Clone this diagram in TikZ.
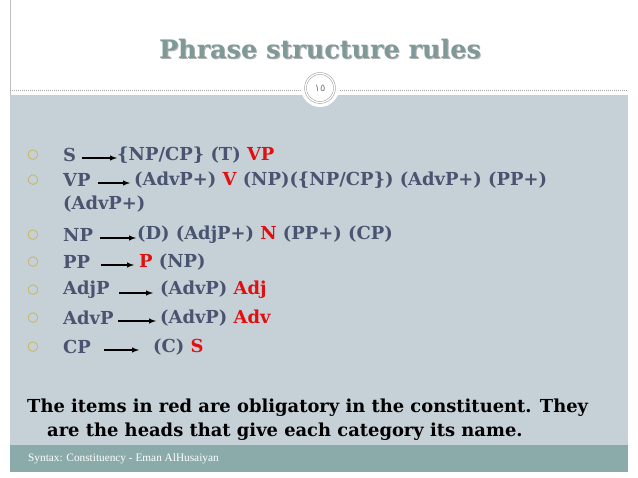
\documentclass[tikz,border=0pt]{standalone}
\usepackage{fontspec}
\setmainfont{DejaVu Serif}
\newfontfamily\arabicfont[Script=Arabic]{DejaVu Sans}
\newfontfamily\footfont{Liberation Serif}
\begin{document}
\begin{tikzpicture}[x=1pt,y=-1pt,
  rule/.style={anchor=west,inner sep=0,font=\bfseries\fontsize{17.9}{20}\selectfont,text=txt},
  bul/.style={anchor=center,inner sep=0,font=\fontsize{13}{14}\selectfont,text=bulc},
  arr/.style={-latex,line width=1.4pt}]
\definecolor{band}{HTML}{C6D0D7}
\definecolor{foot}{HTML}{8BABAB}
\definecolor{ttl}{HTML}{7F9999}
\definecolor{txt}{HTML}{4A5470}
\definecolor{bulc}{HTML}{C9B040}
\definecolor{red1}{HTML}{E01010}
\useasboundingbox (0,0) rectangle (638,478);
\fill[white] (0,0) rectangle (638,478);
\draw[gray!50] (10,0) -- (10,472);
\fill[band] (10,95) rectangle (628,445);
\fill[foot] (10,445) rectangle (628,472);
\draw[gray!70,dashed,dash pattern=on 1pt off 1pt] (10,90) -- (628,90);
\node[font=\bfseries\fontsize{25.5}{28}\selectfont,text=gray!60] at (321,50) {Phrase structure rules};
\node (title) [font=\bfseries\fontsize{25.5}{28}\selectfont,text=ttl] at (320,49) {Phrase structure rules};
\fill[white] (320,88) circle (19);
\draw[gray!80] (320,88) circle (15.5);
\draw[gray!80] (320,88) circle (13.5);
\node (num) [font=\arabicfont\fontsize{10}{11}\selectfont,text=gray] at (320,88) {١٥};
\foreach \y/\n in {155/b1,180/b2,235/b3,262/b4,290/b5,318/b6,347/b7}
  \node (\n) [bul] at (33,\y) {○};
\node (s) [rule] at (63,155) {S};
\node (sr) [rule] at (117,155) {\{NP/CP\} (T) \textcolor{red1}{VP}};
\coordinate (s1) at (82,158); \coordinate (s2) at (117,158);
\draw[arr] (s1) -- (s2);
\node (vp) [rule] at (63,180) {VP};
\node (vpr) [rule] at (134,180) {(AdvP+) \textcolor{red1}{V} (NP)(\{NP/CP\}) (AdvP+) (PP+)};
\node (vp2) [rule] at (63,204) {(AdvP+)};
\coordinate (v1) at (98,183); \coordinate (v2) at (130,183);
\draw[arr] (v1) -- (v2);
\node (np) [rule] at (63,235) {NP};
\node (npr) [rule] at (137,235) {(D) (AdjP+) \textcolor{red1}{N} (PP+) (CP)};
\coordinate (n1c) at (100,238); \coordinate (n2c) at (136,238);
\draw[arr] (n1c) -- (n2c);
\node (pp) [rule] at (63,262) {PP};
\node (ppr) [rule] at (139,262) {\textcolor{red1}{P} (NP)};
\coordinate (p1) at (101,265); \coordinate (p2) at (134,265);
\draw[arr] (p1) -- (p2);
\node (adjp) [rule] at (63,290) {AdjP};
\node (adjpr) [rule] at (160,290) {(AdvP) \textcolor{red1}{Adj}};
\coordinate (a1) at (119,293); \coordinate (a2) at (153,293);
\draw[arr] (a1) -- (a2);
\node (advp) [rule] at (63,318) {AdvP};
\node (advpr) [rule] at (160,318) {(AdvP) \textcolor{red1}{Adv}};
\coordinate (d1) at (118,321); \coordinate (d2) at (156,321);
\draw[arr] (d1) -- (d2);
\node (cp) [rule] at (63,347) {CP};
\node (cpr) [rule] at (153,347) {(C) \textcolor{red1}{S}};
\coordinate (c1) at (104,350); \coordinate (c2) at (139,350);
\draw[arr] (c1) -- (c2);
\node (t1) [rule,text=black] at (27,408) {The items in red are obligatory in the constituent. They};
\node (t2) [rule,text=black] at (47,432) {are the heads that give each category its name.};
\node (ft) [anchor=west,inner sep=0,font=\footfont\fontsize{11.3}{12}\selectfont,text=white] at (28,459) {Syntax: Constituency - Eman AlHusaiyan};
\end{tikzpicture}
\end{document}
